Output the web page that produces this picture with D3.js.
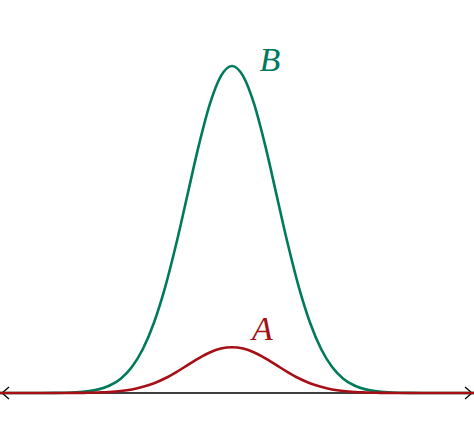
<!DOCTYPE html>
<html><head><meta charset="utf-8">
<script src="https://cdn.jsdelivr.net/npm/d3@7"></script>
<style>body{margin:0;background:#fff}</style>
</head><body>
<svg id="c" width="474" height="445"></svg>
<script>
const xs     = [-5.5,-5,-4.5,-4,-3.5,-3.25,-3,-2.75,-2.5,-2.25,-2,-1.75,-1.5,-1.25,-1,-0.75,-0.5,-0.25,0,0.25,0.5,0.75,1,1.25,1.5,1.75,2,2.25,2.5,2.75,3,3.25,3.5,4,4.5,5,5.5];
const seriesB= [0,0,0,0.0003,0.0022,0.0051,0.0111,0.0228,0.0439,0.0796,0.1353,0.2165,0.3247,0.4578,0.6065,0.7548,0.8825,0.969,1,0.969,0.8825,0.7548,0.6065,0.4578,0.3247,0.2165,0.1353,0.0796,0.0439,0.0228,0.0111,0.0051,0.0022,0.0003,0,0,0];
const seriesA= [0,0,0,0,0.0003,0.0007,0.0016,0.003,0.006,0.011,0.019,0.030,0.045,0.064,0.085,0.106,0.124,0.136,0.14,0.136,0.124,0.106,0.085,0.064,0.045,0.030,0.019,0.011,0.006,0.003,0.0016,0.0007,0.0003,0,0,0,0];
const labels = ["A","B"];

const svg=d3.select("#c");
const x=d3.scaleLinear().domain([-4,4]).range([54,410]);
const y=d3.scaleLinear().domain([0,1]).range([393,66]);
const line=d3.line().x((d,i)=>x(xs[i])).y(d=>y(d)).curve(d3.curveMonotoneX);

svg.append("line").attr("x1",2).attr("x2",472).attr("y1",y(0)).attr("y2",y(0)).attr("stroke","#000").attr("stroke-width",1.3);
svg.append("path").attr("d",`M9,${y(0)-6} L2,${y(0)} L9,${y(0)+6}`).attr("fill","none").attr("stroke","#000").attr("stroke-width",1.3);
svg.append("path").attr("d",`M465,${y(0)-6} L472,${y(0)} L465,${y(0)+6}`).attr("fill","none").attr("stroke","#000").attr("stroke-width",1.3);

svg.append("path").attr("d",line(seriesB)).attr("fill","none").attr("stroke","#007a5a").attr("stroke-width",2.6);
svg.append("path").attr("d",line(seriesA)).attr("fill","none").attr("stroke","#a50f15").attr("stroke-width",2.6);

svg.append("text").attr("x",x(0.62)).attr("y",y(1)+5).text(labels[1])
 .attr("font-family","Liberation Serif").attr("font-style","italic").attr("font-size",34).attr("fill","#007a5a");
svg.append("text").attr("x",x(0.45)).attr("y",y(0.14)-7).text(labels[0])
 .attr("font-family","Liberation Serif").attr("font-style","italic").attr("font-size",34).attr("fill","#a50f15");
</script>
</body></html>
